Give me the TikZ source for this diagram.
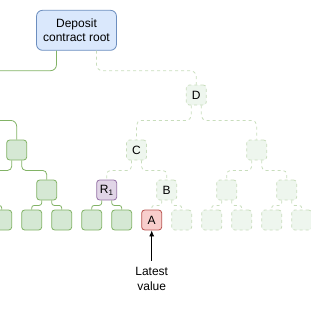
\documentclass[tikz,border=0pt]{standalone}
\usepackage{fontspec}
\setmainfont{Liberation Sans}
\usetikzlibrary{arrows.meta}
\definecolor{gfill}{HTML}{D5E8D4}
\definecolor{gline}{HTML}{82B366}
\definecolor{ffill}{HTML}{EEF6EE}
\definecolor{fline}{HTML}{C8DDBC}
\definecolor{bfill}{HTML}{DAE8FC}
\definecolor{bline}{HTML}{6C8EBF}
\definecolor{pfill}{HTML}{E1D5E7}
\definecolor{pline}{HTML}{9673A6}
\definecolor{rfill}{HTML}{F8CECC}
\definecolor{rline}{HTML}{B85450}
\tikzset{
  box/.style={rounded corners=3pt, minimum width=20pt, minimum height=20pt, inner sep=0pt, line width=0.8pt, font=\fontsize{12}{14}\selectfont},
  solidbox/.style={box, draw=gline, fill=gfill},
  fadebox/.style={box, draw=fline, fill=ffill, dash pattern=on 3pt off 3pt},
  solidedge/.style={draw=gline, line width=0.8pt},
  fadeedge/.style={draw=fline, line width=0.8pt, dash pattern=on 3pt off 3pt},
}
\begin{document}
\begin{tikzpicture}[x=1pt,y=-1pt]
\useasboundingbox (0,0) rectangle (311,311);
\clip (0,0) rectangle (311,311);
% root
\node[rounded corners=6pt, draw=bline, fill=bfill, line width=0.8pt, minimum width=80pt, minimum height=40pt, inner sep=0pt, align=center, font=\fontsize{12}{14}\selectfont] (root) at (76.5,30.3) {Deposit\\contract root};
% level 1
\node[solidbox] (l1a) at (-43.3,95) {};
\node[fadebox] (D) at (196.3,95) {D};
% level 2
\node[solidbox] (l2a) at (16.7,150) {};
\node[fadebox] (C) at (136.5,150) {C};
\node[fadebox] (l2c) at (256.7,150) {};
% level 3
\node[solidbox] (l3o) at (-13.3,190) {};
\node[solidbox] (l3a) at (46.7,190) {};
\node[box, draw=pline, fill=pfill] (R1) at (106.7,190) {R\textsubscript{1}};
\node[fadebox] (B) at (166.7,190) {B};
\node[fadebox] (l3d) at (226.7,190) {};
\node[fadebox] (l3e) at (286.7,190) {};
% level 4
\node[solidbox] (m1) at (1.7,220) {};
\node[solidbox] (m2) at (31.7,220) {};
\node[solidbox] (m3) at (61.7,220) {};
\node[solidbox] (m4) at (91.7,220) {};
\node[solidbox] (m5) at (121.7,220) {};
\node[box, draw=rline, fill=rfill] (A) at (151.7,220) {A};
\node[fadebox] (m7) at (181.7,220) {};
\node[fadebox] (m8) at (211.7,220) {};
\node[fadebox] (m9) at (241.7,220) {};
\node[fadebox] (m10) at (271.7,220) {};
\node[fadebox] (m11) at (301.7,220) {};
% edges root -> level 1
\draw[solidedge, rounded corners=6pt] ([xshift=-20pt]root.south) -- ++(0,20) -| (l1a.north);
\draw[fadeedge, rounded corners=6pt] ([xshift=20pt]root.south) -- ++(0,20) -| (D.north);
% level 1 -> level 2
\draw[solidedge, rounded corners=6pt] ([xshift=5pt]l1a.south) -- ++(0,15) -| (l2a.north);
\draw[fadeedge, rounded corners=5pt] ([xshift=-5pt]D.south) -- ++(0,15) -| (C.north);
\draw[fadeedge, rounded corners=5pt] ([xshift=5pt]D.south) -- ++(0,15) -| (l2c.north);
% level 2 -> level 3
\draw[solidedge, rounded corners=4pt] ([xshift=-5pt]l2a.south) -- ++(0,10) -| (l3o.north);
\draw[solidedge, rounded corners=4pt] ([xshift=5pt]l2a.south) -- ++(0,10) -| (l3a.north);
\draw[fadeedge, rounded corners=4pt] ([xshift=-5pt]C.south) -- ++(0,10) -| (R1.north);
\draw[fadeedge, rounded corners=4pt] ([xshift=5pt]C.south) -- ++(0,10) -| (B.north);
\draw[fadeedge, rounded corners=4pt] ([xshift=-5pt]l2c.south) -- ++(0,10) -| (l3d.north);
\draw[fadeedge, rounded corners=4pt] ([xshift=5pt]l2c.south) -- ++(0,10) -| (l3e.north);
% level 3 -> level 4
\draw[solidedge, rounded corners=2.5pt] ([xshift=5pt]l3o.south) -- ++(0,5) -| (m1.north);
\draw[solidedge, rounded corners=2.5pt] ([xshift=-5pt]l3a.south) -- ++(0,5) -| (m2.north);
\draw[solidedge, rounded corners=2.5pt] ([xshift=5pt]l3a.south) -- ++(0,5) -| (m3.north);
\draw[solidedge, rounded corners=2.5pt] ([xshift=-5pt]R1.south) -- ++(0,5) -| (m4.north);
\draw[solidedge, rounded corners=2.5pt] ([xshift=5pt]R1.south) -- ++(0,5) -| (m5.north);
\draw[fadeedge, rounded corners=2.5pt] ([xshift=-5pt]B.south) -- ++(0,5) -| (A.north);
\draw[fadeedge, rounded corners=2.5pt] ([xshift=5pt]B.south) -- ++(0,5) -| (m7.north);
\draw[fadeedge, rounded corners=2.5pt] ([xshift=-5pt]l3d.south) -- ++(0,5) -| (m8.north);
\draw[fadeedge, rounded corners=2.5pt] ([xshift=5pt]l3d.south) -- ++(0,5) -| (m9.north);
\draw[fadeedge, rounded corners=2.5pt] ([xshift=-5pt]l3e.south) -- ++(0,5) -| (m10.north);
\draw[fadeedge, rounded corners=2.5pt] ([xshift=5pt]l3e.south) -- ++(0,5) -| (m11.north);
% latest value
\node[align=center, font=\fontsize{12}{14.5}\selectfont, inner sep=0pt, anchor=north] (lv) at (151.7,267.5) {Latest\\value};
\draw[line width=0.8pt, -{Latex[length=6pt,width=5pt]}] (lv.north) ++(0,-7) coordinate (lvt) (lvt) -- (A.south);
\end{tikzpicture}
\end{document}
